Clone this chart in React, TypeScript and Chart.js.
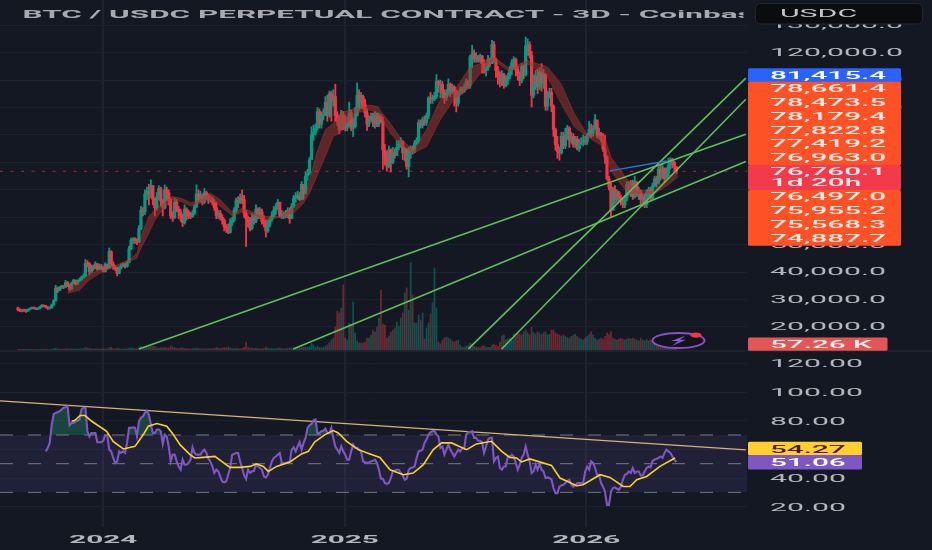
import React, { useEffect, useRef } from "react";
import { Chart, registerables } from "chart.js";

Chart.register(...registerables);

// ---------- price candles, thousands of USDC, one candle every three days ----------
const firstOpen = 27.0;
const closes = [
  26.2,26.0,25.9,26.3,25.8,26.4,26.7,27.1,26.9,26.6,
  26.7,27.3,27.9,27.7,27.3,26.9,27.0,28.0,29.6,34.2,
  33.2,34.4,34.9,34.6,36.2,35.2,33.8,36.0,37.0,35.6,
  36.8,37.2,38.0,38.6,43.2,43.0,40.2,42.0,41.5,43.0,
  41.0,42.2,41.6,40.2,42.8,41.5,47.5,43.0,41.8,41.5,
  39.5,41.6,42.5,42.8,42.0,43.5,48.5,51.5,52.0,51.5,
  51.0,56.0,62.5,62.0,68.5,69.5,68.0,71.5,66.5,63.5,
  67.5,70.5,66.0,63.5,70.0,69.0,66.5,60.5,60.0,65.5,
  63.0,62.0,60.5,58.0,63.0,62.0,60.5,60.3,61.5,63.8,
  68.5,66.5,67.5,65.5,69.0,68.0,66.5,67.0,65.5,63.5,
  60.5,61.5,60.0,59.0,56.5,56.0,54.5,58.0,59.0,62.5,
  66.0,65.5,67.0,66.5,61.5,59.5,58.5,56.0,60.0,58.5,
  63.0,60.5,62.0,58.5,57.5,55.0,57.5,59.0,60.5,62.5,
  63.5,65.5,60.5,60.8,61.0,60.5,62.5,59.5,64.0,67.0,
  67.5,68.0,66.5,72.0,68.5,75.0,76.0,81.0,90.0,91.0,
  92.5,98.5,94.0,97.0,97.5,102.0,97.0,105.0,102.5,104.0,
  97.0,95.0,92.0,97.5,94.5,92.5,94.5,98.0,92.5,93.0,
  97.0,104.5,102.0,104.0,101.0,98.0,94.0,95.5,96.5,94.5,
  96.5,94.0,97.0,95.0,84.5,81.5,78.5,84.5,80.0,83.5,
  82.5,85.5,86.5,87.5,83.5,85.0,78.5,84.0,85.0,84.5,
  87.0,88.0,94.5,93.5,95.5,94.5,97.0,103.5,103.0,103.0,
  104.0,109.5,108.0,108.5,105.5,103.5,105.5,108.5,106.0,107.5,
  106.0,101.5,105.0,106.5,106.0,107.5,109.5,108.0,118.5,119.5,
  118.0,118.5,117.5,118.8,116.0,113.5,114.5,117.5,116.0,123.0,
  117.5,113.5,111.5,109.5,112.0,108.0,110.0,111.5,114.0,116.5,
  117.5,114.0,112.0,109.8,115.0,112.0,122.5,123.0,119.0,104.5,
  108.5,111.5,107.5,113.0,109.0,112.0,100.5,105.0,105.5,100.5,
  92.0,86.5,84.0,83.5,89.5,86.0,90.0,92.5,88.0,89.5,
  86.5,88.5,85.0,87.0,87.5,88.0,87.5,90.0,92.0,90.5,
  92.5,95.5,90.0,90.5,88.5,85.0,82.0,74.0,71.0,62.5,
  70.0,66.5,69.0,67.0,66.0,64.5,67.0,72.0,70.0,72.5,
  67.5,73.0,68.5,69.5,66.5,67.5,64.5,69.0,70.0,67.0,
  71.5,74.0,72.5,77.5,74.5,78.0,74.0,76.0,79.0,81.0,
  80.0,78.5,76.76,
];
const highs = [
  27.3,26.6,26.4,26.5,26.4,26.6,27.0,27.3,27.3,27.0,
  27.0,27.5,28.2,28.1,27.9,27.4,27.3,28.4,30.0,35.2,
  34.6,34.8,35.2,35.2,37.0,36.6,35.6,36.4,37.4,37.2,
  37.2,37.8,38.6,39.4,44.6,44.2,43.6,42.6,42.6,43.8,
  43.2,43.0,42.8,42.0,43.4,43.0,48.8,47.8,43.8,42.4,
  41.8,42.0,43.0,43.4,43.2,44.0,49.4,52.4,52.6,52.6,
  52.2,57.0,64.0,63.5,70.0,71.0,72.0,73.6,71.5,67.0,
  69.0,71.5,71.0,66.5,71.8,71.0,70.0,67.0,62.0,67.0,
  66.5,64.0,63.0,61.0,64.5,63.5,62.5,61.8,62.5,64.5,
  71.8,70.0,69.5,68.5,70.5,69.5,68.5,68.0,67.5,66.5,
  65.5,62.5,62.5,61.0,59.5,57.5,57.5,59.5,60.0,63.5,
  67.0,67.5,68.5,70.0,68.0,62.5,60.5,60.0,61.5,61.0,
  64.5,63.5,63.5,63.0,60.5,59.0,59.0,60.0,62.0,64.0,
  65.0,66.5,65.5,62.5,62.0,62.5,63.5,63.5,65.0,68.0,
  69.0,69.5,69.0,73.0,71.5,76.5,77.5,81.8,93.0,93.5,
  94.0,100.0,99.5,98.5,99.5,104.0,104.5,106.0,106.0,106.5,
  108.5,98.5,97.0,99.0,98.5,97.0,96.5,102.0,99.0,96.0,
  100.0,109.0,106.5,105.5,104.5,103.0,99.5,97.0,98.0,98.0,
  98.5,98.0,98.0,97.5,96.5,86.5,84.0,86.0,85.0,85.5,
  85.0,88.0,88.0,89.0,88.0,85.5,84.5,85.5,86.0,86.0,
  88.0,89.0,95.5,95.5,96.5,97.0,98.0,104.0,105.5,104.5,
  105.5,112.0,110.0,110.0,109.5,106.5,106.5,110.5,109.0,108.5,
  108.0,106.5,106.0,107.5,107.5,108.5,110.5,110.0,119.0,122.7,
  121.0,120.0,119.0,119.5,119.0,117.5,116.0,119.0,118.0,124.5,
  124.0,118.0,115.0,113.0,113.5,112.5,111.5,112.5,115.0,117.5,
  118.5,118.0,115.0,113.0,116.0,115.5,125.7,125.0,124.0,120.5,
  112.0,113.5,114.0,114.5,116.0,114.0,112.5,106.0,107.0,107.0,
  101.0,92.5,89.5,85.5,91.0,91.0,92.5,93.5,93.0,91.0,
  90.5,89.5,89.5,88.5,89.0,90.0,89.5,90.5,95.0,94.0,
  93.5,97.5,95.0,92.5,91.0,90.5,90.0,82.5,75.0,72.5,
  71.0,71.5,70.0,69.5,68.0,67.0,68.0,73.0,73.0,73.5,
  73.5,75.0,71.0,71.0,70.0,68.5,68.5,70.0,71.0,71.0,
  72.5,75.0,75.0,79.0,79.0,79.5,77.5,78.0,81.5,81.7,
  81.5,80.5,78.0,
];
const lows = [
  25.9,25.6,25.5,25.7,25.3,25.7,26.2,26.6,26.5,26.3,
  26.3,26.6,27.2,27.3,26.9,26.4,26.5,26.9,27.9,29.4,
  32.5,33.2,34.0,34.0,34.4,34.7,33.2,33.7,35.8,35.2,
  35.4,36.5,37.0,37.8,38.4,42.0,39.0,39.8,40.6,41.2,
  40.6,40.9,41.0,40.0,40.0,41.0,41.4,42.2,41.0,40.5,
  38.6,39.4,41.2,42.0,41.5,41.8,43.4,48.2,50.5,50.5,
  50.0,50.8,55.5,60.5,61.0,66.5,64.5,67.0,64.5,60.5,
  62.5,66.5,64.0,60.5,63.0,66.0,64.5,59.5,58.5,59.5,
  62.0,59.5,58.5,56.6,57.5,59.0,59.5,59.5,60.0,61.0,
  63.5,65.5,65.5,64.5,65.0,66.5,65.0,65.5,64.5,62.5,
  59.5,59.5,59.0,57.5,55.0,54.5,54.0,54.2,57.0,58.5,
  61.5,63.5,65.0,65.0,60.0,49.4,56.5,55.0,55.5,57.5,
  58.0,59.5,59.5,57.5,56.5,52.8,54.5,56.5,58.5,60.0,
  61.0,63.0,60.0,59.5,59.5,59.8,59.8,57.8,59.5,63.5,
  65.5,66.5,66.0,66.3,66.5,68.5,73.5,75.5,81.0,88.0,
  90.0,91.8,92.5,92.5,95.5,97.0,95.0,96.5,95.0,100.5,
  95.0,93.5,90.5,91.8,92.0,91.5,91.5,93.0,91.5,89.4,
  92.5,97.0,99.0,99.5,99.5,96.5,91.7,93.0,95.0,93.0,
  92.5,93.0,93.0,94.5,77.5,79.0,76.8,78.0,76.5,79.5,
  81.5,82.5,84.5,85.5,81.0,80.5,77.5,74.7,81.5,83.0,
  83.5,86.5,87.0,92.5,92.5,93.5,93.5,96.0,101.5,101.5,
  102.5,103.3,105.5,103.5,103.5,101.5,102.5,104.5,104.0,105.0,
  100.5,98.4,100.5,104.5,105.0,105.5,106.5,107.0,107.0,114.5,
  116.5,116.5,116.5,116.5,112.5,112.5,111.5,113.5,115.0,116.0,
  116.5,111.0,108.5,107.5,108.0,107.0,107.5,108.5,110.5,112.0,
  114.0,111.5,110.0,108.0,109.0,110.5,111.5,119.0,118.0,100.2,
  103.5,106.5,105.0,106.5,106.0,107.0,99.0,99.0,103.5,98.5,
  89.5,84.5,81.5,80.8,83.0,85.0,85.0,88.5,85.5,87.0,
  85.5,85.5,84.5,84.0,86.5,86.0,86.5,86.5,89.5,89.0,
  89.5,92.0,89.0,88.5,87.5,84.0,79.6,73.5,70.0,60.1,
  63.0,65.0,65.5,66.0,64.5,63.5,63.5,66.0,68.0,67.5,
  66.5,67.0,67.5,66.5,65.0,64.0,63.5,63.5,67.0,66.0,
  66.5,71.0,71.0,72.0,73.5,74.0,73.0,74.5,75.0,77.5,
  78.0,77.0,75.9,
];

// ---------- volume, thousands ----------
const volumes = [
  8,6,7,6,6,7,8,7,6,6,
  6,7,8,7,6,6,6,9,14,22,
  12,10,9,10,14,12,11,12,10,10,
  10,11,14,13,30,20,18,14,11,13,
  12,10,9,11,13,11,26,30,15,12,
  22,14,10,9,10,12,20,24,18,13,
  14,30,38,28,36,30,34,40,42,38,
  25,20,26,22,28,20,22,44,30,26,
  18,16,22,24,18,15,14,12,15,16,
  22,18,14,12,14,12,15,14,15,18,
  30,20,18,20,26,24,32,20,16,14,
  20,14,14,16,30,88,28,20,22,15,
  20,15,12,14,18,32,20,14,16,15,
  14,18,22,14,12,12,16,22,24,25,
  18,16,22,30,28,33,30,40,70,55,
  30,44,30,24,26,40,55,77,110,130,
  253,429,407,462,715,132,110,297,275,528,
  187,99,77,77,77,88,132,132,165,220,
  198,253,352,660,286,275,132,154,198,220,
  242,308,264,352,407,627,682,440,957,605,
  297,297,385,330,407,121,242,297,396,517,
  902,462,88,66,110,132,143,132,121,99,
  88,99,110,55,33,33,44,50,77,66,
  40,33,28,25,40,48,33,30,28,55,
  66,50,40,88,154,165,110,120,130,110,
  175,165,190,175,165,200,220,190,170,250,
  190,175,200,180,170,190,200,165,175,220,
  220,190,175,165,150,165,150,140,130,150,
  165,175,150,130,120,110,130,150,170,200,
  165,130,110,120,130,120,150,190,170,200,
  130,120,110,120,130,120,110,120,130,120,
  130,120,110,100,130,110,100,120,100,110,
  100,90,80,90,80,70,80,70,90,70,
  70,60,57.26,
];

// ---------- red moving-average ribbon (candle index, upper, lower) ----------
const ribbonIndex = [25,31,36,43,50,56,60,62,66,69,73,77.5,82,87.5,97,102,108.5,113,125,132,139,144,147,150.6,155,159,162.4,170,177.5,181.7,182.5,187.7,193.5,199.4,206,212.9,219.7,228,233,239.7,248,256.7,267,273.8,280.5,287.2,295.6,299,307.5,312.6,321,327.7,332.7];
const ribbonUpper = [34.1,36.5,39.6,40.9,42.7,44.5,46.9,53,60.3,62.7,65.2,67.6,67,65.2,68.8,66.4,61.5,63.3,60.3,60.3,63.9,66.4,73.7,83.4,91.9,94.3,97.9,99.7,100.9,100.3,99.1,94.3,88.2,84.6,91.9,102.8,105.8,114.8,116,118.4,114.2,117.2,114.8,108.7,97.8,89.9,89.9,81.9,73.5,69.8,69.8,74.7,77.1];
const ribbonLower = [32.3,33.4,37.2,40.3,42.1,43.9,45.1,48.8,54.2,59,62.7,66.4,65.8,64,66.4,64,60.3,62.1,59,60,61.5,65.2,68.8,74.8,82.2,89.5,90.7,97.9,99.1,97.9,96.7,90.7,85.8,83.4,85.8,95.5,102.8,107.5,112.4,117.2,113,116,111.2,101.5,93,89.3,85.6,77,68.6,68.6,68.6,71.7,74.7];

// ---------- drawn trend lines: [start index, start price, end index, end price] ----------
const greenTrendLines = [
  [61.0, 12.0, 367, 90.3],
  [138.8, 12.0, 367, 80.3],
  [227.1, 12.0, 367, 110.7],
  [243.9, 12.0, 367, 103.0],
];
const blueTrendLine = [298.5, 76.9, 327.1, 80.5];
const lastPrice = 76.76;

// ---------- RSI panel ----------
const rsiFirstIndex = 14;
const rsiValues = [
  58.6,61,64.5,77,84.7,85.4,86,86.6,87.8,89,89.4,90,76.8,78.4,78.4,79.6,80,80.8,87.8,89,
  89,72.6,69,71.4,71.4,71.4,65,65,65,66,70,70,59.8,58.6,54,50.5,51.6,58.6,57.5,58.6,
  57.5,64.5,75,75,75.4,75,69,79.6,82,83,85.4,87,84,77.3,71.4,71.4,73.8,73.8,72.6,63.8,
  70.3,69,62,51.6,56.3,56.3,51.6,48,45.8,52.8,49.3,49.3,50.5,52.8,61.4,57.5,56.3,56.3,56.3,58.6,
  59.8,57.5,53.5,51.6,48,43.5,45.8,44.6,41,37.6,37,37.6,42.3,47,56.3,56.8,57.5,57.5,51.6,47,
  42,39.3,45.8,43.5,44.6,45,49.3,48,47,45.8,41,40.4,42.3,47,51.6,54,55,56.3,57.5,50.5,
  50.5,50.5,51,51,59.8,61.4,58.6,62,65,59.8,64.5,68,75,76.8,77.7,80.3,80.8,70.7,71.4,72.6,
  73,74.5,71.4,71.4,75,68,62,59.8,57.5,62,58.6,56.3,52.8,52.8,58.6,63.3,61,61,59.8,58.6,
  51.6,51,50.5,51,51.6,52,52.8,50.5,45.8,39.5,39.5,36.5,35.8,36.5,40,44.6,45.3,45.8,45.8,43.5,
  41.8,38.8,39.5,45.8,47,47.4,48,54,58.6,59,59.8,64.5,66.8,70.3,72,72.6,73,70.3,69,61,
  62,56.3,59.8,63.3,59.8,57.5,55,57.5,59.8,58.6,61,60.5,70.3,72,72,72.6,68,68,66,66,
  65,57.5,62,66.8,68,68,51.6,54,55,47,45.8,48,48,55,55,56.3,55,50.5,45.8,49.3,
  54,56.3,62,56.3,51.6,43.5,44.6,49.3,45.8,49.8,45.8,44.6,40,40.4,40,39,33,29.5,29.5,34,
  34.8,35.3,36.5,38,38.8,35.3,34,34.8,36.5,36.5,36.5,36.5,44.6,48,45.8,51.6,50.5,47,42.3,42.3,
  36.5,34,30.6,21.3,21.3,30.6,33,33.5,32.5,31.8,34,38.8,42.3,42.8,44.6,43.5,47,43.5,44.6,44.6,
  41.8,41.8,44.6,47,48,47.4,52,52.8,53.5,54,55,54,57.5,59.8,58.6,57.5,55,52.8,51.06,
];
const rsiMaIndex = [27,28.7,31.3,33.8,37.2,44.7,48,53.1,59,63.2,65.7,70,75,78.3,81.7,86.7,89.2,93.4,99.3,102.7,106.9,111.9,117,120.3,123.7,126.2,130.4,137.1,143,146.4,149.7,154.8,159,161.5,165.7,171.6,177.5,182.5,187.6,194.3,199.3,204.4,209.4,213.6,218.6,226.2,231.2,238.8,243.9,248,251.4,253.9,258.1,269,273.3,281.7,285,293.5,298.5,305.2,308.6,312,317,323.7,331.3];
const rsiMaValues = [79.6,80.3,83.6,83.6,79.6,72.6,65.6,60.3,62.1,70.3,76.1,78,76.1,70.3,63.3,56.3,54,54.4,55.1,51.6,47.4,47.4,48.1,49.8,48.1,44.6,48.1,51.2,56.8,58.6,65.2,70.3,73.1,71.4,65.6,59.8,56.8,54.4,45.8,42.3,43.5,49.3,59.8,64.5,64.5,59.8,63.8,65.6,58.6,54.4,54,51.2,53.3,48.8,40,34.6,35.3,42.3,40.4,34.1,34.1,38.8,41.1,48.1,54];
const rsiTrendLine = [-9.08, 93.8, 367, 59.6];
const rsiLevels = [70, 50, 30];

// ---------- axes and labels ----------
const priceTicks = [20,30,40,50,60,70,80,90,100,110,120,130];
const rsiTicks = [20,40,60,80,100,120];
const yearLabels = ["2024","2025","2026"];
const yearIndices = [43, 164.8, 286.5];
const titleText = "BTC / USDC PERPETUAL CONTRACT - 3D - Coinbase";
const quoteCurrency = "USDC";
const upperTags = ["78,661.4","78,473.5","78,179.4","77,822.8","77,419.2","76,963.0"];
const lowerTags = ["76,497.0","75,955.2","75,568.3","74,887.7"];
const topTag = "81,415.4";
const currentTag = ["76,760.1","1d 20h"];
const volumeTag = "57.26 K";
const rsiMaTag = "54.27";
const rsiTag = "51.06";

// ---------- palette ----------
const BG = "#141823";
const UP = "#089981";
const DOWN = "#f23645";
const FONT = "Roboto";
const AXIS_TEXT = "#b4b6bc";

const X_MIN = -9.08;
const X_MAX = 367.6;
const VOL_MAX = 3850;
const TEXT_NUDGE = 1.5;

function line(xs: number[], ys: number[]) {
  return xs.map((x, i) => ({ x, y: ys[i] }));
}
function segment(s: number[]) {
  return [{ x: s[0], y: s[1] }, { x: s[2], y: s[3] }];
}
function stretched(ctx: CanvasRenderingContext2D, text: string, x: number, y: number, sx: number, font: string, color: string, align: CanvasTextAlign = "left") {
  ctx.save();
  ctx.font = font;
  ctx.fillStyle = color;
  ctx.textAlign = align;
  ctx.textBaseline = "middle";
  ctx.translate(x, y + TEXT_NUDGE);
  ctx.scale(sx, 1);
  ctx.fillText(text, 0, 0);
  ctx.restore();
}

const overlayPlugin = {
  id: "overlay",
  afterDatasetsDraw(chart: any) {
    const ctx: CanvasRenderingContext2D = chart.ctx;
    const { yPrice, yRsi, x } = chart.scales;
    const axisFont = `400 10px ${FONT}`;
    const tagFont = `500 10px ${FONT}`;
    ctx.save();
    ctx.font = axisFont;
    const sx = 133 / ctx.measureText("120,000.0").width;
    ctx.font = tagFont;
    const tagSx = 133 / ctx.measureText("120,000.0").width;
    ctx.restore();

    // pane separator
    ctx.save();
    ctx.strokeStyle = "#262a36";
    ctx.lineWidth = 1;
    ctx.beginPath();
    ctx.moveTo(0, 351);
    ctx.lineTo(932, 351);
    ctx.stroke();
    ctx.restore();

    // axis labels
    yPrice.ticks.forEach((t: any) => {
      const label = (t.value * 1000).toLocaleString("en-US", { minimumFractionDigits: 1 });
      stretched(ctx, label, 770, yPrice.getPixelForValue(t.value) - 1, sx, axisFont, AXIS_TEXT);
    });
    yRsi.ticks.forEach((t: any) => {
      stretched(ctx, t.value.toFixed(2), 770, yRsi.getPixelForValue(t.value), sx, axisFont, AXIS_TEXT);
    });
    const yearFont = `700 11px ${FONT}`;
    x.ticks.forEach((t: any, i: number) => {
      ctx.save();
      ctx.font = yearFont;
      const w = ctx.measureText(yearLabels[i]).width;
      ctx.restore();
      stretched(ctx, yearLabels[i], x.getPixelForValue(t.value), 539, 68 / w, yearFont, AXIS_TEXT, "center");
    });

    // title
    const titleFont = `700 11px ${FONT}`;
    ctx.save();
    ctx.font = titleFont;
    const tsx = 715 / ctx.measureText("BTC / USDC PERPETUAL CONTRACT - 3D - Coinba").width;
    ctx.restore();
    ctx.save();
    ctx.beginPath();
    ctx.rect(0, 0, 743.5, 30);
    ctx.clip();
    stretched(ctx, titleText, 22.5, 13.3, tsx, titleFont, "#a8aab0");
    ctx.restore();

    // currency box
    ctx.save();
    ctx.fillStyle = "#0b0c10";
    ctx.strokeStyle = "#23262f";
    ctx.beginPath();
    ctx.roundRect(755.5, 3.5, 167, 20.5, 5);
    ctx.fill();
    ctx.stroke();
    ctx.restore();
    stretched(ctx, quoteCurrency, 780, 13.3, sx, axisFont, "#c6c7cb");

    // price tags
    const rect = (l: number, t: number, r: number, b: number, c: string) => {
      ctx.save();
      ctx.fillStyle = c;
      ctx.beginPath();
      ctx.roundRect(l, t, r - l, b - t, 1.5);
      ctx.fill();
      ctx.restore();
    };
    rect(748, 68.3, 901, 82, "#2962ff");
    stretched(ctx, topTag, 770, 74.8, tagSx, tagFont, "#ffffff");
    rect(748, 81.7, 901, 165.2, "#ff5126");
    upperTags.forEach((s, i) => stretched(ctx, s, 770, 87.8 + i * 13.9, tagSx, tagFont, "#ffe9e2"));
    rect(748, 190, 901, 245.7, "#ff5126");
    lowerTags.forEach((s, i) => stretched(ctx, s, 770, 196 + i * 13.9, tagSx, tagFont, "#ffe9e2"));
    rect(748, 165, 901, 190, "#f23a4b");
    stretched(ctx, currentTag[0], 770, 171, tagSx, tagFont, "#ffe9ec");
    stretched(ctx, currentTag[1], 770, 182.3, tagSx, tagFont, "#ffe9ec");
    rect(748, 337.5, 887.5, 350.7, "#e35656");
    stretched(ctx, volumeTag, 770, 344.2, tagSx, tagFont, "#ffe9ec");
    rect(748, 441.7, 862, 455.5, "#ffd02d");
    stretched(ctx, rsiMaTag, 770, 448.6, tagSx, tagFont, "#4a1a12");
    rect(748, 455, 862, 469.5, "#7e57c2");
    stretched(ctx, rsiTag, 770, 462.2, tagSx, tagFont, "#ffffff");

    // badge
    ctx.save();
    ctx.fillStyle = "#12131c";
    ctx.strokeStyle = "#8a50c4";
    ctx.lineWidth = 2;
    ctx.beginPath();
    ctx.ellipse(678.5, 340.5, 26, 7.6, 0, 0, Math.PI * 2);
    ctx.fill();
    ctx.stroke();
    ctx.fillStyle = "#8a58d0";
    ctx.beginPath();
    ctx.moveTo(686, 335.5);
    ctx.lineTo(671, 341);
    ctx.lineTo(678, 341);
    ctx.lineTo(672, 346);
    ctx.lineTo(686, 339.8);
    ctx.lineTo(680, 339.8);
    ctx.closePath();
    ctx.fill();
    ctx.fillStyle = "#f23645";
    ctx.beginPath();
    ctx.ellipse(696, 335.2, 5.5, 2.6, 0, 0, Math.PI * 2);
    ctx.fill();
    ctx.restore();
  },
};

export default function App() {
  const ref = useRef<HTMLCanvasElement | null>(null);
  useEffect(() => {
    if (!ref.current) return;
    const opens = closes.map((_, i) => (i === 0 ? firstOpen : closes[i - 1]));
    const idx = closes.map((_, i) => i);
    const candleColor = closes.map((c, i) => (c >= opens[i] ? UP : DOWN));
    const volColor = closes.map((c, i) => (c >= opens[i] ? "rgba(8,153,129,0.45)" : "rgba(242,54,69,0.42)"));
    const flat = (v: number) => [{ x: X_MIN, y: v }, { x: X_MAX, y: v }];
    const lineBase = { type: "line", pointRadius: 0, tension: 0, fill: false };

    const datasets: any[] = [
      {
        type: "bar", label: "Volume", yAxisID: "yVol", grouped: false, order: 20, barThickness: 1.1,
        data: idx.map((i) => ({ x: i, y: volumes[i] })), backgroundColor: volColor,
      },
      {
        type: "bar", label: "Wicks", yAxisID: "yPrice", grouped: false, order: 12, barThickness: 1.2,
        data: idx.map((i) => ({ x: i, y: [lows[i], highs[i]] })), backgroundColor: candleColor,
      },
      {
        type: "bar", label: "Candles", yAxisID: "yPrice", grouped: false, order: 11, barThickness: 2.6,
        data: idx.map((i) => ({ x: i, y: [Math.min(opens[i], closes[i]), Math.max(opens[i], closes[i])] })), backgroundColor: candleColor,
      },
      {
        ...lineBase, label: "Ribbon upper", yAxisID: "yPrice", order: 9, data: line(ribbonIndex, ribbonUpper),
        borderColor: "rgba(242,70,60,0.3)", borderWidth: 1, fill: "+1", backgroundColor: "rgba(170,52,45,0.5)",
      },
      {
        ...lineBase, label: "Ribbon lower", yAxisID: "yPrice", order: 9, data: line(ribbonIndex, ribbonLower),
        borderColor: "rgba(215,70,55,0.35)", borderWidth: 1,
      },
      {
        ...lineBase, label: "Last price", yAxisID: "yPrice", order: 8, data: flat(lastPrice),
        borderColor: "rgba(242,54,69,0.65)", borderWidth: 1, borderDash: [3, 7.5],
      },
      ...greenTrendLines.map((s, i) => ({
        ...lineBase, label: `Trend ${i + 1}`, yAxisID: "yPrice", order: 2, data: segment(s),
        borderColor: "#5fbf5a", borderWidth: 1.6,
      })),
      {
        ...lineBase, label: "Blue trend", yAxisID: "yPrice", order: 1, data: segment(blueTrendLine),
        borderColor: "#2f73e0", borderWidth: 1.4,
      },
      {
        ...lineBase, label: "RSI band", yAxisID: "yRsi", order: 19, data: flat(rsiLevels[0]),
        borderWidth: 0, fill: { value: rsiLevels[2] }, backgroundColor: "rgba(126,87,194,0.12)",
      },
      ...rsiLevels.map((v) => ({
        ...lineBase, label: `RSI level ${v}`, yAxisID: "yRsi", order: 18, data: flat(v),
        borderColor: "rgba(150,152,160,0.75)", borderWidth: 1, borderDash: [13, 15],
      })),
      {
        ...lineBase, label: "RSI trend", yAxisID: "yRsi", order: 5, data: segment(rsiTrendLine),
        borderColor: "#d9b27a", borderWidth: 1.3,
      },
      {
        ...lineBase, label: "RSI", yAxisID: "yRsi", order: 4,
        data: rsiValues.map((v, i) => ({ x: rsiFirstIndex + i, y: v })),
        borderColor: "#7e57c2", borderWidth: 2.1,
        fill: { target: { value: 70 }, above: "rgba(38,166,120,0.32)", below: "rgba(0,0,0,0)" },
      },
      {
        ...lineBase, label: "RSI MA", yAxisID: "yRsi", order: 3, data: line(rsiMaIndex, rsiMaValues),
        borderColor: "#f7d22c", borderWidth: 1.6,
      },
    ];

    const chart = new Chart(ref.current, {
      type: "line",
      data: { datasets },
      plugins: [overlayPlugin as any],
      options: {
        responsive: false,
        devicePixelRatio: 1,
        animation: false,
        events: [],
        layout: { padding: 0 },
        plugins: { legend: { display: false }, tooltip: { enabled: false }, title: { display: false } },
        scales: {
          x: {
            type: "linear", min: X_MIN, max: X_MAX, offset: false,
            grid: { color: "#20232f", lineWidth: 2, drawTicks: false, offset: false },
            border: { display: false },
            ticks: { display: false },
            afterBuildTicks: (s: any) => { s.ticks = yearIndices.map((v) => ({ value: v })); },
            afterFit: (s: any) => { s.height = 23; },
          },
          yPrice: {
            type: "linear", position: "right", stack: "panes", stackWeight: 351, weight: 1,
            min: 11.25, max: 139.2,
            grid: { color: "#1d212c", drawTicks: false },
            border: { display: false },
            ticks: { display: false },
            afterBuildTicks: (s: any) => { s.ticks = priceTicks.map((v) => ({ value: v })); },
            afterFit: (s: any) => { s.width = 185; },
          },
          yRsi: {
            type: "linear", position: "right", stack: "panes", stackWeight: 176, weight: 1,
            min: 5.84, max: 128.6,
            grid: { color: "#1d212c", drawTicks: false },
            border: { display: false },
            ticks: { display: false },
            afterBuildTicks: (s: any) => { s.ticks = rsiTicks.map((v) => ({ value: v })); },
            afterFit: (s: any) => { s.width = 185; },
          },
          yVol: {
            type: "linear", position: "right", display: false,
            min: -VOL_MAX * (177 / 350), max: VOL_MAX,
          },
        },
      } as any,
    } as any);
    return () => chart.destroy();
  }, []);

  return (
    <div style={{ position: "fixed", left: 0, top: 0, width: 932, height: 550, background: BG, overflow: "hidden" }}>
      <canvas ref={ref} width={932} height={550} style={{ display: "block", width: 932, height: 550, filter: "blur(0.35px)" }} />
    </div>
  );
}
